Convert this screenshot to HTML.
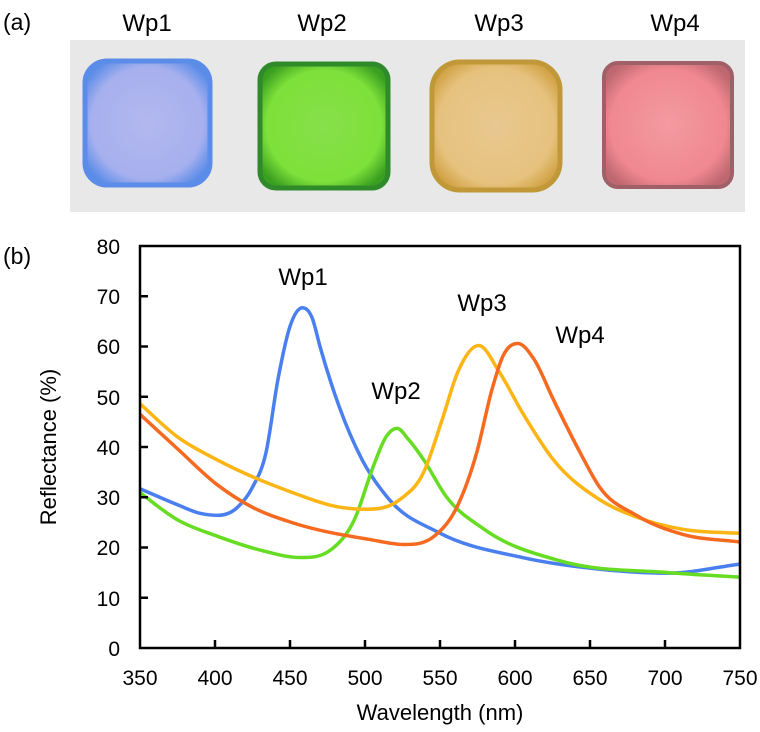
<!DOCTYPE html>
<html><head><meta charset="utf-8"><style>
body{margin:0;background:#fff;width:760px;height:727px;overflow:hidden;font-family:"Liberation Sans",sans-serif}
</style></head><body>
<svg width="760" height="727" viewBox="0 0 760 727" xmlns="http://www.w3.org/2000/svg" font-family="Liberation Sans, sans-serif">
<defs>
<radialGradient id="gb" cx="50%" cy="50%" r="60%"><stop offset="0" stop-color="#b3b8ee"/><stop offset="0.75" stop-color="#a7b0ee"/><stop offset="1" stop-color="#5a8ce8"/></radialGradient>
<radialGradient id="gg" cx="50%" cy="50%" r="60%"><stop offset="0" stop-color="#86e04a"/><stop offset="0.75" stop-color="#7ee03a"/><stop offset="1" stop-color="#3aa020"/></radialGradient>
<radialGradient id="gy" cx="50%" cy="50%" r="60%"><stop offset="0" stop-color="#e8c890"/><stop offset="0.75" stop-color="#e6c27e"/><stop offset="1" stop-color="#d0a040"/></radialGradient>
<radialGradient id="gr" cx="50%" cy="50%" r="60%"><stop offset="0" stop-color="#f49aa0"/><stop offset="0.75" stop-color="#f08890"/><stop offset="1" stop-color="#c06870"/></radialGradient>
</defs>
<text x="3" y="30" font-size="23">(a)</text>
<text x="147" y="31" font-size="24" text-anchor="middle">Wp1</text>
<text x="322" y="31" font-size="24" text-anchor="middle">Wp2</text>
<text x="499" y="31" font-size="24" text-anchor="middle">Wp3</text>
<text x="675" y="31" font-size="24" text-anchor="middle">Wp4</text>
<rect x="70" y="40" width="675" height="172" fill="#e8e8e8"/>
<rect x="85" y="61" width="125" height="124" rx="22" fill="url(#gb)" stroke="#5a8ce8" stroke-width="5"/>
<rect x="260" y="64" width="128" height="124" rx="16" fill="url(#gg)" stroke="#2f8a2a" stroke-width="5"/>
<rect x="432" y="62" width="128" height="128" rx="28" fill="url(#gy)" stroke="#c09838" stroke-width="5"/>
<rect x="604" y="63" width="128" height="124" rx="14" fill="url(#gr)" stroke="#a06068" stroke-width="4"/>

<text x="3" y="264" font-size="23">(b)</text>
<g font-size="21" text-anchor="end">
<text x="120" y="254">80</text><text x="120" y="304">70</text><text x="120" y="354">60</text><text x="120" y="405">50</text>
<text x="120" y="455">40</text><text x="120" y="505">30</text><text x="120" y="555">20</text><text x="120" y="606">10</text><text x="120" y="656">0</text>
</g>
<g font-size="21" text-anchor="middle">
<text x="140" y="685">350</text><text x="215" y="685">400</text><text x="290" y="685">450</text><text x="365" y="685">500</text>
<text x="440" y="685">550</text><text x="515" y="685">600</text><text x="590" y="685">650</text><text x="665" y="685">700</text><text x="740" y="685">750</text>
</g>
<text x="440" y="720" font-size="22" text-anchor="middle">Wavelength (nm)</text>
<text transform="translate(56,447) rotate(-90)" font-size="22" text-anchor="middle">Reflectance (%)</text>
<g id="curves" fill="none" stroke-width="3.5" stroke-linejoin="round"></g>
<g stroke="#000" stroke-width="2.5" fill="none">
<rect x="140" y="246" width="600" height="402"/>
<path d="M140 296.3h8M140 346.5h8M140 396.8h8M140 447h8M140 497.3h8M140 547.5h8M140 597.8h8"/>
<path d="M215 648v-8M290 648v-8M365 648v-8M440 648v-8M515 648v-8M590 648v-8M665 648v-8"/>
</g>
<g font-size="24" text-anchor="middle">
<text x="303" y="285">Wp1</text><text x="396" y="399">Wp2</text><text x="482" y="311">Wp3</text><text x="580" y="343">Wp4</text>
</g>
</svg>
<script>
const D={
"#4a7ff0":[[350,31.7],[375,28.5],[390,26.8],[402,26.4],[415,28],[425,32],[434,38.9],[442,53.5],[450,64],[458.4,67.7],[465,65.5],[470,60],[482.6,48.2],[498,37.5],[516,29.6],[549,23],[605,18],[656,15.7],[702,14.9],[750,16.7]],
"#66dd22":[[350,30.9],[375,25.5],[401,22.3],[430,19.5],[457,18],[477.5,19.6],[493,25.6],[505.6,36.2],[514,42],[521.4,43.7],[529,41.5],[539,37.5],[554,30.2],[579.6,23.6],[630.6,17.3],[702,15],[750,14.1]],
"#fdb515":[[350,48.6],[375,42],[401,37.5],[452,30.9],[480,28.2],[500.5,27.6],[523.5,29.6],[539,34.9],[551.5,45.5],[561.7,54.8],[575.8,60.2],[589.8,54.8],[605,46.8],[625.5,37.5],[656,29.6],[681.6,26],[712,23.6],[750,22.8]],
"#f56a20":[[350,46.5],[375.5,39.5],[401,32.6],[425,28],[452,24.9],[503,21.6],[526,20.6],[546.4,22.3],[561.7,28.3],[574.5,38.9],[584.7,51.5],[592,58.1],[602,60.6],[612.8,57.4],[625.5,49.5],[643.4,38.9],[656,32.2],[681.6,26.3],[712,22.6],[750,21.1]]};
const g=document.getElementById('curves');
for(const c in D){const p=D[c];const n=p.length;const m=[];const s=[],h=[];
for(let i=0;i<n-1;i++){h.push(p[i+1][0]-p[i][0]);s.push((p[i+1][1]-p[i][1])/h[i]);}
for(let i=0;i<n;i++){
 if(i==0)m.push(s[0]);else if(i==n-1)m.push(s[n-2]);
 else{const a=s[i-1],b=s[i];if(a*b<=0)m.push(0);else{
  const w=(a*h[i]+b*h[i-1])/(h[i-1]+h[i]);
  const lim=3*Math.min(Math.abs(a),Math.abs(b));
  m.push(Math.sign(w)*Math.min(Math.abs(w),lim));}}}
const X=l=>140+(l-350)*1.5,Y=r=>648-r*5.025;
let d='M'+X(p[0][0])+' '+Y(p[0][1]);
for(let i=0;i<n-1;i++){const k=h[i];
d+=` C${X(p[i][0]+k/3)} ${Y(p[i][1]+m[i]*k/3)} ${X(p[i+1][0]-k/3)} ${Y(p[i+1][1]-m[i+1]*k/3)} ${X(p[i+1][0])} ${Y(p[i+1][1])}`;}
const el=document.createElementNS('http://www.w3.org/2000/svg','path');el.setAttribute('d',d);el.setAttribute('stroke',c);g.appendChild(el);}
</script>
</body></html>
